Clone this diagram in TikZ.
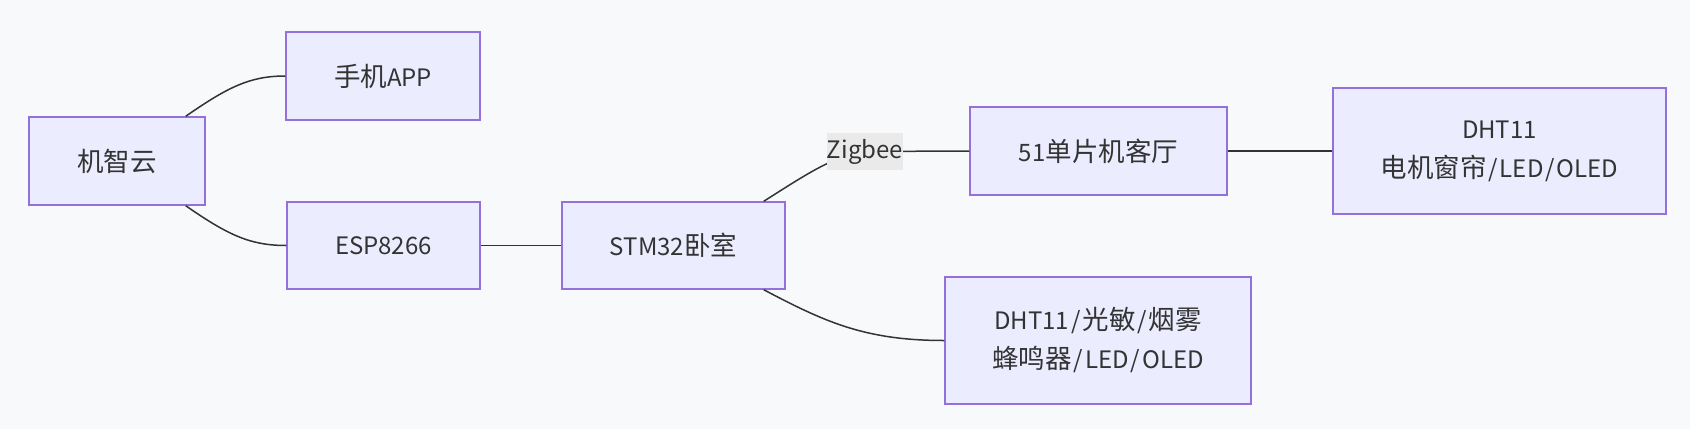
\documentclass[tikz,border=0pt]{standalone}
\usepackage{fontspec}
\newfontfamily\cjk{Noto Sans CJK SC}
\newcommand\zh[1]{{\fontsize{26.5}{39}\selectfont #1}}
\newcommand\slsh{\kern2pt/\kern2pt}
\definecolor{bgc}{HTML}{F8F9FA}
\definecolor{boxfill}{HTML}{ECECFF}
\definecolor{boxline}{HTML}{9370DB}
\definecolor{edgec}{HTML}{333333}
\definecolor{txt}{HTML}{333333}
\definecolor{lblbg}{HTML}{EAEAEB}
\tikzset{
  box/.style={draw=boxline, fill=boxfill, line width=1.4pt, rectangle, inner sep=0pt,
    text=txt, font=\cjk\fontsize{24}{39}\selectfont, align=center},
  edge/.style={draw=edgec, line width=1.5pt},
  lbl/.style={fill=lblbg, inner sep=0pt, text=txt, font=\cjk\fontsize{24}{39}\selectfont,
    minimum width=76pt, minimum height=37pt}
}
\begin{document}
\begin{tikzpicture}[x=1pt,y=-1pt]
\fill[bgc] (0,0) rectangle (1690,429);
\useasboundingbox (0,0) rectangle (1690,429);

\node[box, minimum width=176pt, minimum height=88pt] (jzy) at (117,161) {\zh{机智云}};
\node[box, minimum width=194pt, minimum height=88pt] (app) at (383,76) {\zh{手机}APP};
\node[box, minimum width=193pt, minimum height=87pt] (esp) at (383.5,245.5) {ESP8266};
\node[box, minimum width=223pt, minimum height=87pt] (stm) at (673.5,245.5) {STM32\zh{卧室}};
\node[box, minimum width=257pt, minimum height=88pt] (n51) at (1098.5,151) {51\zh{单片机客厅}};
\node[box, minimum width=333pt, minimum height=126pt] (dht) at (1499.5,151) {DHT11\\\zh{电机窗帘}\slsh LED\slsh OLED};
\node[box, minimum width=306pt, minimum height=127pt] (sen) at (1098,340.5) {DHT11\slsh\zh{光敏}\slsh\zh{烟雾}\\\zh{蜂鸣器}\slsh LED\slsh OLED};

\coordinate (zigc) at (865,153);

\draw[edge] ([xshift=-20pt]jzy.north east) .. controls (228,87) and (250,76) .. (app.west);
\draw[edge] ([xshift=-20pt]jzy.south east) .. controls (228,235) and (250,245.5) .. (esp.west);
\draw[edge] (esp.east) -- (stm.west);
\draw[edge] ([xshift=-22pt]stm.north east) .. controls (810,172) and (835,155) .. (zigc) .. controls (900,151) and (930,151) .. (n51.west);
\draw[edge] ([xshift=-22pt]stm.south east) .. controls (825,322) and (865,340.5) .. (sen.west);
\draw[edge] (n51.east) -- (dht.west);

\node[lbl] (zig) at (865,151.5) {Zigbee};
\end{tikzpicture}
\end{document}
